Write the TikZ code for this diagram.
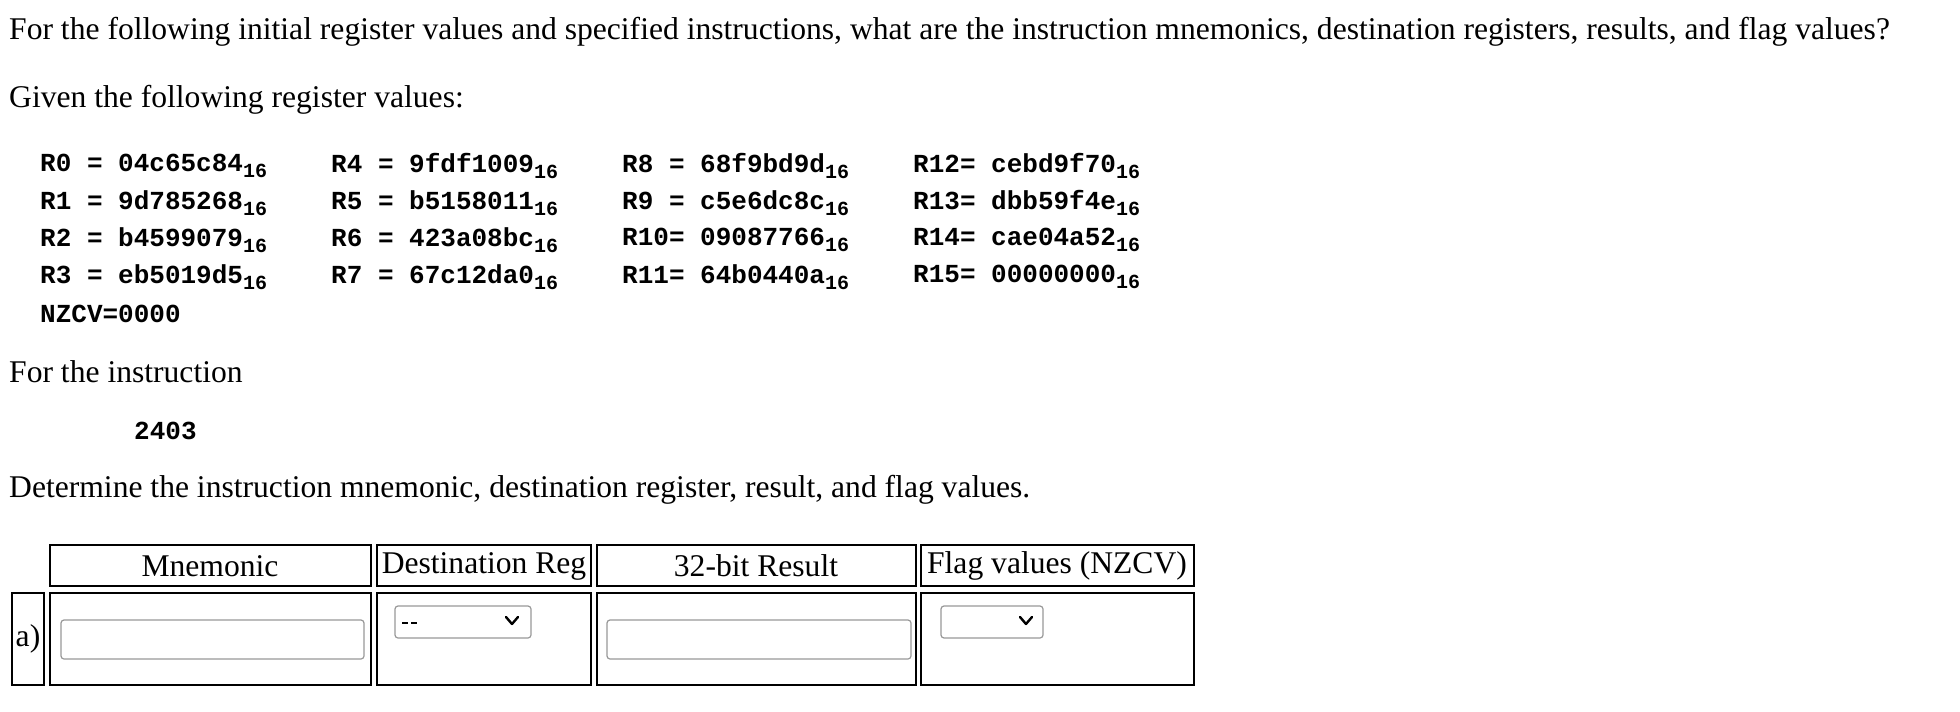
\documentclass[tikz,border=0pt]{standalone}
\usepackage{fontspec}
\setmainfont{Liberation Serif}
\setmonofont{Liberation Mono}
\newcommand{\hexsub}{\raisebox{-6pt}{\fontsize{20}{22}\selectfont 16}}
\begin{document}
\begin{tikzpicture}[x=1pt,y=-1pt,
  txt/.style={anchor=west,inner sep=0,font=\fontsize{31.6}{34}\selectfont},
  reg/.style={anchor=west,inner sep=0,font=\fontsize{26}{28}\selectfont\ttfamily\bfseries},
  cell/.style={draw,line width=1.6pt},
  box/.style={draw=gray!80,rounded corners=3pt,line width=1.2pt},
  hd/.style={inner sep=0,font=\fontsize{31.6}{34}\selectfont}]
\useasboundingbox[fill=white] (0,0) rectangle (1960,712);
\node[txt] (q1) at (9,32) {For the following initial register values and specified instructions, what are the instruction mnemonics, destination registers, results, and flag values?};
\node[txt] (q2) at (9,100) {Given the following register values:};
\foreach \n/\c/\r/\v in {R0 /0/0/04c65c84,R1 /0/1/9d785268,R2 /0/2/b4599079,R3 /0/3/eb5019d5,
  R4 /1/0/9fdf1009,R5 /1/1/b5158011,R6 /1/2/423a08bc,R7 /1/3/67c12da0,
  R8 /2/0/68f9bd9d,R9 /2/1/c5e6dc8c,R10/2/2/09087766,R11/2/3/64b0440a,
  R12/3/0/cebd9f70,R13/3/1/dbb59f4e,R14/3/2/cae04a52,R15/3/3/00000000}
  \node[reg] (r\c\r) at ({40+291*\c},{166+37*\r}) {\n= \v\hexsub};
\node[reg] (nzcv) at (40,314) {NZCV=0000};
\node[txt] (q3) at (9,372) {For the instruction};
\node[reg] (ins) at (134,431) {2403};
\node[txt] (q4) at (9,490) {Determine the instruction mnemonic, destination register, result, and flag values.};
\draw[cell] (50,545) rectangle (371,586);
\draw[cell] (377,545) rectangle (591,586);
\draw[cell] (597,545) rectangle (916,586);
\draw[cell] (921,545) rectangle (1194,586);
\draw[cell] (12,593) rectangle (44,685);
\draw[cell] (50,593) rectangle (371,685);
\draw[cell] (377,593) rectangle (591,685);
\draw[cell] (597,593) rectangle (916,685);
\draw[cell] (921,593) rectangle (1194,685);
\node[hd] (h1) at (210,566) {Mnemonic};
\node[hd] (h2) at (484,566) {Destination Reg};
\node[hd] (h3) at (756,566) {32-bit Result};
\node[hd] (h4) at (1057,566) {Flag values (NZCV)};
\node[hd] (la) at (28,639) {a)};
\draw[box] (61,620) rectangle (364,659);
\draw[box] (607,620) rectangle (911,659);
\draw[box] (395,606) rectangle (531,638);
\draw[box] (941,606) rectangle (1043,638);
\draw[line width=2.4pt] (402,623) -- (408,623) (411,623) -- (417,623);
\draw[line width=2.4pt,line cap=round,line join=round] (506,617) -- (512,624) -- (518,617);
\draw[line width=2.4pt,line cap=round,line join=round] (1020,617) -- (1026,624) -- (1032,617);
\end{tikzpicture}
\end{document}
